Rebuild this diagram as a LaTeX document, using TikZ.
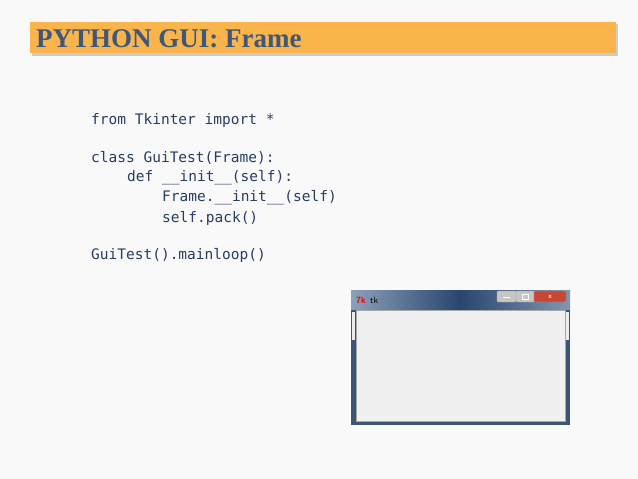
\documentclass[tikz,border=0pt]{standalone}
\usepackage{fontspec}
\setmainfont{Liberation Serif}
\newfontfamily\codefont{DejaVu Sans Mono}
\definecolor{titlebg}{RGB}{249,180,76}
\definecolor{titlefg}{RGB}{64,88,120}
\definecolor{winA}{RGB}{140,160,185}
\definecolor{winB}{RGB}{40,70,110}
\definecolor{winC}{RGB}{130,150,175}
\definecolor{winframe}{RGB}{60,85,115}
\definecolor{clientbg}{RGB}{240,240,240}
\definecolor{closebtn}{RGB}{200,70,50}
\definecolor{codefg}{RGB}{40,60,100}
\begin{document}
\begin{tikzpicture}[x=1pt,y=-1pt,
  code/.style={anchor=west,inner sep=0pt,font=\codefont\fontsize{14.5}{16}\selectfont,text=codefg},
  btn/.style={draw=gray!70,rounded corners=1pt}]
\fill[gray!5] (0,0) rectangle (638,479);
\useasboundingbox (0,0) rectangle (638,479);
\fill[gray!40] (32,24) rectangle (618,56);
\fill[titlebg] (30,22) rectangle (616,53);
\node[anchor=west,inner sep=0pt,font=\bfseries\fontsize{27}{29}\selectfont,text=titlefg] (title) at (36,38.5) {PYTHON GUI: Frame};
\node[code] (l1) at (91,120) {from Tkinter import *};
\node[code] (l2) at (91,158) {class GuiTest(Frame):};
\node[code] (l3) at (127,178) {def \_\_init\_\_(self):};
\node[code] (l4) at (162,198) {Frame.\_\_init\_\_(self)};
\node[code] (l5) at (162,218) {self.pack()};
\node[code] (l6) at (91,255) {GuiTest().mainloop()};
% window
\shade[left color=winA, right color=winB] (351,290) rectangle (460,310);
\shade[left color=winB, right color=winC] (460,290) rectangle (570,310);
\fill[winframe] (351,310) rectangle (356,425);
\fill[winframe] (565,310) rectangle (570,425);
\fill[winframe] (351,421) rectangle (570,425);
\fill[white!85!gray] (352,312) rectangle (355,340);
\fill[white!85!gray] (566,312) rectangle (569,340);
\node[draw=gray!70,fill=clientbg,minimum width=209pt,minimum height=111pt,inner sep=0pt,anchor=north west] (client) at (356,310) {};
\node[anchor=west,inner sep=0pt,font=\sffamily\bfseries\fontsize{9}{9}\selectfont,text=red] (ico) at (356,300) {7k};
\node[anchor=west,inner sep=0pt,font=\sffamily\fontsize{9}{9}\selectfont] (tk) at (370,300) {tk};
\draw[btn,fill=gray!45] (497,291) rectangle (516,302);
\draw[btn,fill=gray!45] (516,291) rectangle (534,302);
\draw[btn,fill=closebtn] (534,291) rectangle (566,302);
\draw[white,line width=1pt] (503,297) -- (510,297);
\draw[white] (522,294) rectangle (528,299);
\node[inner sep=0pt,text=white,font=\sffamily\bfseries\fontsize{7}{7}\selectfont] (x) at (550,296.5) {x};
\end{tikzpicture}
\end{document}
